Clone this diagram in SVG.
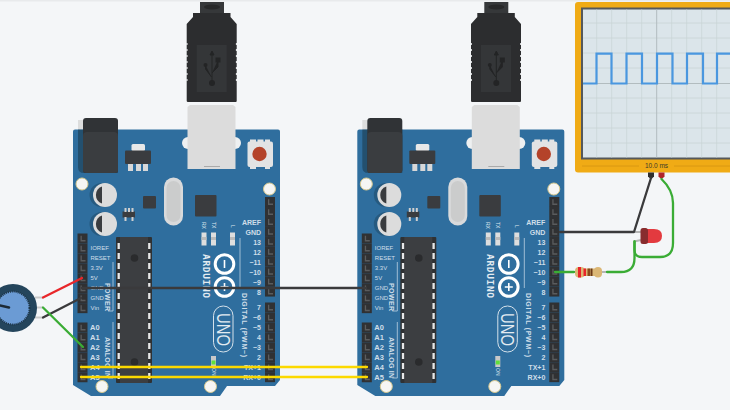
<svg xmlns="http://www.w3.org/2000/svg" width="730" height="410" viewBox="0 0 730 410">
<style>
text{font-family:"Liberation Sans",Arial,sans-serif;fill:#cfdee9}
.s{font-size:6px}
.d{font-size:7px;font-weight:bold;text-anchor:end}
.a{font-size:7.5px;font-weight:bold}
.v{font-size:7px;font-weight:bold}
.m{font-family:"DejaVu Sans Mono",monospace;font-weight:bold;font-size:9.500px;fill:#e3ebf1}
.u{font-size:18px;fill:#e3ebf1}
.t{font-size:5px;fill:#dfe8ee}
.w{fill:none;stroke-linecap:round;stroke-linejoin:round}
</style>
<defs>
<g id="pin"><rect width="10" height="10" fill="#303133"/><path d="M3 2.2h1.3v4.3H8V8H3z" fill="#5a5c5e"/></g>
<g id="p2"><use href="#pin"/><use href="#pin" y="9.95"/></g>
<g id="p6"><use href="#p2"/><use href="#p2" y="19.9"/><use href="#p2" y="39.8"/></g>
<g id="p8"><use href="#p6"/><use href="#p2" y="59.7"/></g>
<g id="p10"><use href="#p8"/><use href="#p2" y="79.6"/></g>
<g id="board">
<path d="M75 129.500H278Q280 129.500 280 131.500V380L275 386H227L220 396H91L73 385V131.500Q73 129.500 75 129.500Z" fill="#2f6e9e"/>
<circle cx="188" cy="143" r="6" fill="#eef0f1"/><circle cx="235" cy="143" r="6" fill="#eef0f1"/>
<path d="M78 120h5v9.500h-5z" fill="#dcdddd"/>
<path d="M78 129.500H118V173H84Q78 173 78 167Z" fill="#23506f"/>
<rect x="83" y="118" width="35" height="55" rx="3" fill="#303336"/>
<path d="M83 136Q83 132 87 132H114Q118 132 118 136V170Q118 173 115 173H86Q83 173 83 170Z" fill="#3a3d40"/>
<rect x="131.500" y="144" width="13.500" height="7" rx="1.500" fill="#e8e8e8"/><rect x="125" y="150.500" width="26" height="13.500" rx="1" fill="#3a3c3f"/>
<path d="M128 164h5v7h-5zM136 164h5v7h-5zM143 164h5v7h-5z" fill="#d8d8d8"/>
<path d="M187.500 107L190 105H233L235.500 107V169H187.500Z" fill="#dcdcdc"/><path d="M204 166h16v1h-16z" fill="#aaa"/>
<path d="M250 139.500h6v3h-6zM257.500 139.500h6v3h-6zM265 139.500h5v3h-5zM250 166h6v3h-6zM265 166h5v3h-5z" fill="#e2e3e4"/>
<rect x="247.500" y="141.500" width="25.500" height="25.500" rx="2" fill="#e2e3e4"/><circle cx="259.500" cy="154" r="7.200" fill="#b4432a"/>
<g fill="#f6f6f4" stroke="#d8c98e"><circle cx="82" cy="184" r="6"/><circle cx="269.500" cy="189" r="6"/><circle cx="102" cy="386.500" r="6"/><circle cx="210.500" cy="386.500" r="6"/></g>
<circle cx="101.500" cy="195" r="12" fill="#265a80"/><circle cx="105" cy="195" r="12" fill="#dcdcdc"/><path d="M102 186.500a9 9 0 0 0 0 17z" fill="#3a3c3f"/>
<circle cx="101.500" cy="224" r="12" fill="#265a80"/><circle cx="105" cy="224" r="12" fill="#dcdcdc"/><path d="M102 215.500a9 9 0 0 0 0 17z" fill="#3a3c3f"/>
<rect x="143" y="196" width="13" height="12.500" rx="1" fill="#3a3c3f"/>
<rect x="122.500" y="211.500" width="12.500" height="6" fill="#3a3c3f"/><path d="M124.500 208h2v4h-2zM128 208h2v4h-2zM131.500 208h2v4h-2zM124.500 217h2v4h-2zM131.500 217h2v4h-2z" fill="#cfcfcf"/>
<rect x="164" y="177.500" width="19" height="48" rx="9.500" fill="#d9dadb"/><rect x="166.500" y="181" width="14" height="41" rx="7" fill="#cbcccc"/>
<rect x="195" y="195" width="21.500" height="21.500" rx="1" fill="#3a3c3f"/>
<path d="M201.500 232.500h5v13h-5zM211 232.500h5v13h-5zM230 232.500h5v13h-5z" fill="#dedede"/><path d="M201.500 237h5v3h-5zM211 237h5v3h-5zM230 237h5v3h-5z" fill="#bbb"/>
<rect x="116" y="237" width="36" height="146" rx="1" fill="#2f3133"/><rect x="120" y="237" width="28" height="146" fill="#3c3e41"/>
<path d="M118.700 243v137M149.300 243v137" stroke="#e8e8e8" stroke-width="2.300" stroke-dasharray="6 4" fill="none"/>
<circle cx="134.500" cy="258" r="3.800" fill="#2a2b2d"/><circle cx="134.500" cy="362" r="3.800" fill="#2a2b2d"/>
<path d="M113 262V311H108M113 322V378H108M240 238V288" stroke="#bcd2e2" stroke-width=".8" fill="none"/>
<circle cx="224.500" cy="264" r="9.300" fill="none" stroke="#fff" stroke-width="3"/><circle cx="224.500" cy="287" r="9.300" fill="none" stroke="#fff" stroke-width="3"/>
<path d="M224.500 260v8M220.500 287h8M224.500 283v8" stroke="#fff" stroke-width="1.600"/>
<rect x="213.500" y="306" width="19.500" height="46" rx="9.700" fill="none" stroke="#d5e1ea"/>
<rect x="211" y="356" width="5" height="11" fill="#c9c9c9"/><rect x="211.500" y="360.500" width="4" height="4" fill="#5fe03b"/>
<use href="#p8" x="77.500" y="233.500"/><use href="#p6" x="77.500" y="322.500"/><use href="#p10" x="265" y="197"/><use href="#p8" x="265" y="302.500"/>
</g>
<g id="plug">
<rect x="200" y="2" width="24" height="12" fill="#36383a"/><ellipse cx="212" cy="7" rx="8" ry="2.500" fill="#272829"/>
<path d="M193 13H230.500V17L236.700 24V101Q236.700 102 235.700 102H188Q186.700 102 186.700 101V24L193 17Z" fill="#2c2d2f"/>
<path d="M187 43V81M236.400 43V81" stroke="#f4f6f8" stroke-dasharray="2 4" fill="none"/>
<rect x="196.700" y="45" width="30" height="47" fill="#343638"/>
<g fill="#232425"><path d="M211.500 82V52H212.500V82Z"/><circle cx="212" cy="83" r="3"/><path d="M212 51l-2 4h4zM205.500 65v4l6 8M218 60v7l-6 6" stroke="#232425"/><circle cx="205.500" cy="65" r="2"/><rect x="215.500" y="57.500" width="5" height="5"/></g>
</g>
</defs>
<rect width="730" height="410" fill="#f4f6f8"/>
<rect width="730" height="1.500" fill="#e8eaec"/>
<g id="arduino-1">
<use href="#board"/>
<text x="90.500" y="250" class="s">IOREF</text><text x="90.500" y="260" class="s">RESET</text><text x="90.500" y="270" class="s">3.3V</text><text x="90.500" y="280" class="s">5V</text><text x="90.500" y="290" class="s">GND</text><text x="90.500" y="300" class="s">GND</text><text x="90.500" y="310" class="s">Vin</text>
<text x="90" y="330" class="a">A0</text><text x="90" y="340" class="a">A1</text><text x="90" y="350" class="a">A2</text><text x="90" y="360" class="a">A3</text><text x="90" y="370" class="a">A4</text><text x="90" y="380" class="a">A5</text>
<text x="261" y="225" class="d">AREF</text><text x="261" y="235" class="d">GND</text><text x="261" y="245" class="d">13</text><text x="261" y="255" class="d">12</text><text x="261" y="265" class="d">~11</text><text x="261" y="275" class="d">~10</text><text x="261" y="285" class="d">~9</text><text x="261" y="295" class="d">8</text><text x="261" y="310" class="d">7</text><text x="261" y="320" class="d">~6</text><text x="261" y="330" class="d">~5</text><text x="261" y="340" class="d">4</text><text x="261" y="350" class="d">~3</text><text x="261" y="360" class="d">2</text><text x="261" y="370" class="d">TX+1</text><text x="261" y="380" class="d">RX+0</text>
<text transform="translate(105 283) rotate(90)" class="v" textLength="28">POWER</text><text transform="translate(105 337) rotate(90)" class="v" textLength="41">ANALOG IN</text><text transform="translate(242 293) rotate(90)" class="v" textLength="64">DIGITAL (PWM~)</text>
<text transform="translate(203 254) rotate(90)" class="m" textLength="44">ARDUINO</text><text transform="translate(217 313) rotate(90)" class="u" textLength="33" lengthAdjust="spacingAndGlyphs">UNO</text>
<text transform="translate(202 222) rotate(90)" class="t">RX</text><text transform="translate(211.500 222) rotate(90)" class="t">TX</text><text transform="translate(231 225) rotate(90)" class="t">L</text><text transform="translate(211.500 368) rotate(90)" class="t">ON</text>
<use href="#plug"/>
</g>
<g id="arduino-2" transform="translate(284.300 0)">
<use href="#board"/>
<text x="90.500" y="250" class="s">IOREF</text><text x="90.500" y="260" class="s">RESET</text><text x="90.500" y="270" class="s">3.3V</text><text x="90.500" y="280" class="s">5V</text><text x="90.500" y="290" class="s">GND</text><text x="90.500" y="300" class="s">GND</text><text x="90.500" y="310" class="s">Vin</text>
<text x="90" y="330" class="a">A0</text><text x="90" y="340" class="a">A1</text><text x="90" y="350" class="a">A2</text><text x="90" y="360" class="a">A3</text><text x="90" y="370" class="a">A4</text><text x="90" y="380" class="a">A5</text>
<text x="261" y="225" class="d">AREF</text><text x="261" y="235" class="d">GND</text><text x="261" y="245" class="d">13</text><text x="261" y="255" class="d">12</text><text x="261" y="265" class="d">~11</text><text x="261" y="275" class="d">~10</text><text x="261" y="285" class="d">~9</text><text x="261" y="295" class="d">8</text><text x="261" y="310" class="d">7</text><text x="261" y="320" class="d">~6</text><text x="261" y="330" class="d">~5</text><text x="261" y="340" class="d">4</text><text x="261" y="350" class="d">~3</text><text x="261" y="360" class="d">2</text><text x="261" y="370" class="d">TX+1</text><text x="261" y="380" class="d">RX+0</text>
<text transform="translate(105 283) rotate(90)" class="v" textLength="28">POWER</text><text transform="translate(105 337) rotate(90)" class="v" textLength="41">ANALOG IN</text><text transform="translate(242 293) rotate(90)" class="v" textLength="64">DIGITAL (PWM~)</text>
<text transform="translate(203 254) rotate(90)" class="m" textLength="44">ARDUINO</text><text transform="translate(217 313) rotate(90)" class="u" textLength="33" lengthAdjust="spacingAndGlyphs">UNO</text>
<text transform="translate(202 222) rotate(90)" class="t">RX</text><text transform="translate(211.500 222) rotate(90)" class="t">TX</text><text transform="translate(231 225) rotate(90)" class="t">L</text><text transform="translate(211.500 368) rotate(90)" class="t">ON</text>
<use href="#plug"/>
</g>
<g id="oscilloscope">
<rect x="575" y="2" width="170" height="170.500" rx="3" fill="#f0ab15"/>
<rect x="582" y="8.500" width="160" height="150" fill="#dbe5ea" stroke="#55585a" stroke-width="2"/>
<path d="M596.700 9.500V157.500M611.700 9.500V157.500M626.700 9.500V157.500M641.700 9.500V157.500M671.700 9.500V157.500M686.700 9.500V157.500M701.700 9.500V157.500M716.700 9.500V157.500M583 23H730M583 38H730M583 53H730M583 68H730M583 98H730M583 113H730M583 128H730M583 143H730" stroke="#c9d4d6" stroke-width=".8" fill="none"/>
<path d="M656.700 9.500V157.500M583 83.500H730" stroke="#b2bcbf" fill="none"/>
<path d="M583 83.500H596.500V53.700H611.500V83.500H626.500V53.700H642V83.500H657V53.700H672.500V83.500H687V53.700H703V83.500H717V53.700H730" fill="none" stroke="#4a97df" stroke-width="2.200"/>
<path d="M582 166H639M674 166H730" stroke="#d39412" stroke-width=".8" fill="none"/>
<text x="656.500" y="168" text-anchor="middle" style="font-size:6.500px;fill:#3d3a2a">10.0 ms</text>
<path d="M648 172.500h6v4l-2 2h-2l-2-2z" fill="#2f2f2f"/><path d="M658.500 172.500h6v4l-2 2h-2l-2-2z" fill="#b0242a"/>
</g>
<g id="potentiometer">
<path d="M35 297.500h8M35 307.500h8M35 317.500h8" stroke="#c9c9c9" stroke-width="2" fill="none"/>
<circle cx="13" cy="308" r="24" fill="#24455c"/>
<circle cx="13" cy="308" r="16.500" fill="#6b9bd4" stroke="#1e3547" stroke-width="2" stroke-dasharray="1 1"/>
<path d="M0 305.500L9 307.500" stroke="#1c2a36" stroke-width="2.500" stroke-linecap="round"/>
</g>
<g id="resistor">
<path d="M573 272h35" stroke="#b5b5b5" stroke-width="2"/>
<rect x="575" y="267" width="10" height="10.500" rx="4" fill="#dbb775"/><rect x="583" y="268.500" width="13" height="7.500" fill="#dbb775"/><rect x="594" y="267" width="8" height="10.500" rx="4" fill="#dbb775"/>
<path d="M578 267h3v10.500h-3zM583.500 268.500h2.500v7.500h-2.500z" fill="#e8232a"/><path d="M587.500 268.500h2.500v7.500h-2.500z" fill="#8a4a1c"/><path d="M590.500 268.500h2v7.500h-2z" fill="#6d3a18"/>
</g>
<g id="led">
<path d="M634 232h8M634 241.500l7-1.500" stroke="#b5b5b5" stroke-width="2" fill="none"/>
<path d="M646 229h8q8 0 8 7t-8 7h-8z" fill="#e33a3f"/>
<rect x="640.500" y="228" width="7.500" height="16" rx="2.500" fill="#872c2e"/>
</g>
<g id="connectors">
<g class="w" stroke-width="2.300">
<path d="M43 297.500L82 278" stroke="#e8262a"/>
<path d="M43 317.500L81 298" stroke="#3a3a3c"/>
<path d="M43 307.500L83 347" stroke="#3aac35"/>
<path d="M82 288H366" stroke="#3a3a3c"/>
<path d="M81 367H367M81 377H367" stroke="#fcd900"/>
<path d="M560 232H634L651 178" stroke="#3a3a3c"/>
<path d="M661.500 179Q673 190 673 203V243Q673 257 660 257H642Q634.500 257 634.500 250V241.500" stroke="#3aac35"/>
<path d="M555 272H574" stroke="#3aac35"/>
<path d="M607 272H621Q634.500 272 634.500 258V241.500" stroke="#3aac35"/>
</g>
</g>
</svg>
